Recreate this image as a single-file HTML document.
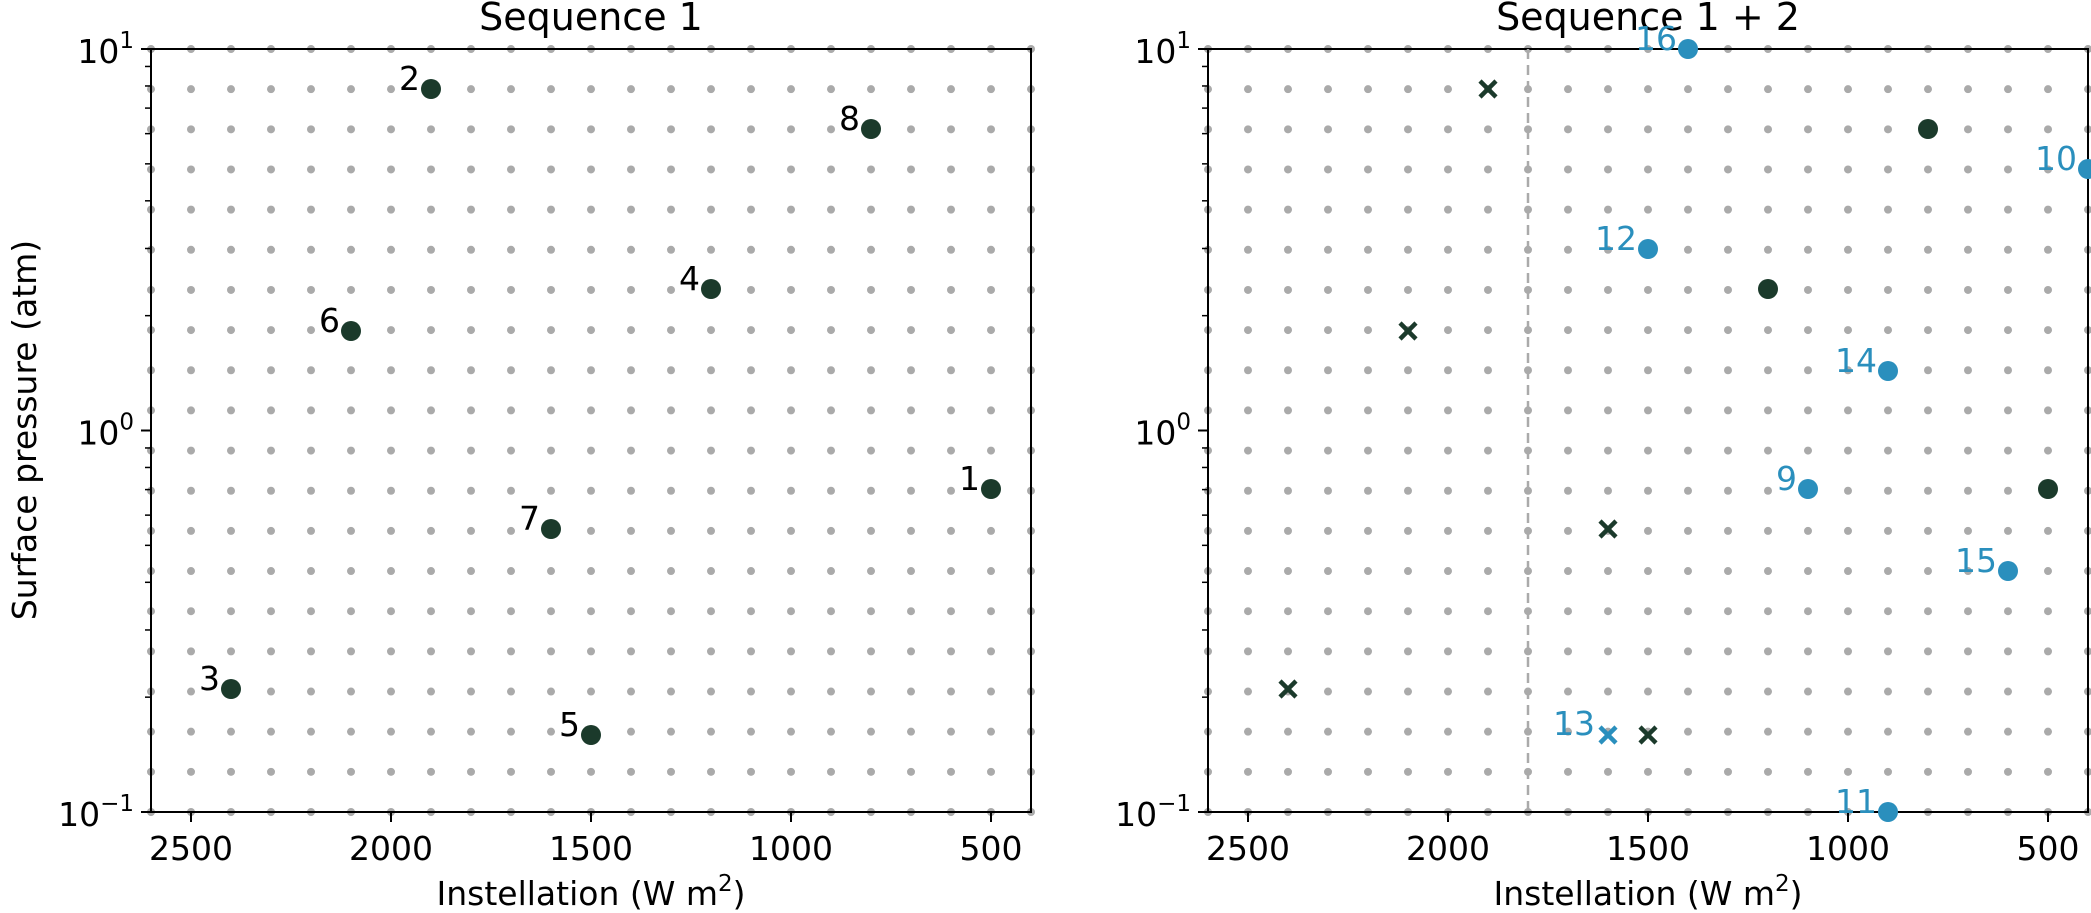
<!DOCTYPE html>
<html><head><meta charset="utf-8"><style>
html,body{margin:0;padding:0;background:#fff}
svg{display:block}
text{font-family:"DejaVu Sans","Liberation Sans",sans-serif;fill:#000}
</style></head><body>
<svg id="s" width="2091" height="913" xmlns="http://www.w3.org/2000/svg"></svg>
<script>
const s=document.getElementById('s');let h='';
const Y=p=>49+(1-Math.log10(p))*381.5;
const DK='#1b3a2b',BL='#2a8fbd';
function panel(x0,title){
  const X=w=>x0+(2600-w)*0.4;
  for(let i=0;i<20;i++){const y=49+i*763/19;for(let w=2600;w>=400;w-=100){h+=`<circle cx="${X(w)}" cy="${y}" r="4" fill="#aaa"/>`;}}
  h+=`<rect x="${x0}" y="49" width="880" height="763" fill="none" stroke="#000" stroke-width="2"/>`;
  for(const w of [2500,2000,1500,1000,500]){const x=X(w);h+=`<line x1="${x}" y1="812" x2="${x}" y2="822" stroke="#000" stroke-width="2"/><text x="${x}" y="860" font-size="33" text-anchor="middle">${w}</text>`;}
  for(let d=-1;d<=1;d++){const y=Y(Math.pow(10,d));h+=`<line x1="${x0-10}" y1="${y}" x2="${x0}" y2="${y}" stroke="#000" stroke-width="2"/>`;
    h+=`<text x="${x0-17}" y="${y+14}" font-size="33" text-anchor="end">10<tspan font-size="23" dy="-15">${d===-1?'\u22121':d}</tspan></text>`;
    if(d<1)for(let k=2;k<=9;k++){const yy=Y(k*Math.pow(10,d));h+=`<line x1="${x0-6}" y1="${yy}" x2="${x0}" y2="${yy}" stroke="#000" stroke-width="1.5"/>`;}}
  h+=`<text x="${x0+440}" y="30" font-size="38" text-anchor="middle">${title}</text>`;
  h+=`<text x="${x0+440}" y="905" font-size="33" text-anchor="middle">Instellation (W m<tspan font-size="23" dy="-14">2</tspan><tspan dy="14">)</tspan></text>`;
  return X;
}
function dot(x,y,c,l,lc){h+=`<circle cx="${x}" cy="${y}" r="10" fill="${c}"/>`;if(l){lc=lc||c;h+=`<text x="${x-11}" y="${y+1}" font-size="33" text-anchor="end" style="fill:${lc}">${l}</text>`;}}
function cross(x,y,c,l){const a=8;h+=`<path d="M${x-a} ${y-a}L${x+a} ${y+a}M${x-a} ${y+a}L${x+a} ${y-a}" stroke="${c}" stroke-width="4.5"/>`;if(l)h+=`<text x="${x-13}" y="${y}" font-size="33" text-anchor="end" style="fill:${c}">${l}</text>`;}
const L=panel(151,'Sequence 1');
const pts=[[500,489,'1'],[1900,89,'2'],[800,129,'8'],[1200,289,'4'],[2100,331,'6'],[1600,529,'7'],[2400,689,'3'],[1500,735,'5']];
for(const p of pts)dot(L(p[0]),p[1],DK,p[2],'#000');
const R=panel(1208,'Sequence 1 + 2');
h+=`<line x1="${R(1800)}" y1="49" x2="${R(1800)}" y2="812" stroke="#aaa" stroke-width="2.5" stroke-dasharray="10,6"/>`;
for(const p of pts){if(['8','4','1'].includes(p[2]))dot(R(p[0]),p[1],DK);else cross(R(p[0]),p[1],DK);}
const bl=[[1400,49,'16'],[400,169,'10'],[1500,249,'12'],[900,371,'14'],[1100,489,'9'],[600,571,'15'],[900,812,'11']];
for(const p of bl)dot(R(p[0]),p[1],BL,p[2]);
cross(R(1600),735,BL,'13');
h+=`<text transform="translate(36,430) rotate(-90)" font-size="33" text-anchor="middle">Surface pressure (atm)</text>`;
s.innerHTML=h;
</script>
</body></html>
